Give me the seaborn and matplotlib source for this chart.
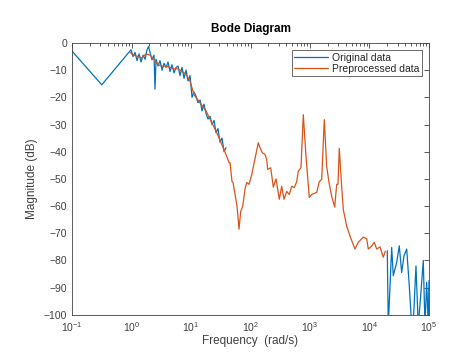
import numpy as np
import pandas as pd
import matplotlib
matplotlib.use('Agg')
import matplotlib.pyplot as plt
import seaborn as sns

# original data (rad/s, dB)
orig_freq = [0.1, 0.316, 0.98, 1.06, 1.145, 1.24, 1.34, 1.44, 1.56, 1.69, 1.82, 1.93,
             2.05, 2.21, 2.39, 2.48, 2.58, 2.79, 3.01, 3.26, 3.52, 3.80, 4.11, 4.44,
             4.79, 5.18, 5.60, 6.05, 6.53, 7.06, 7.63, 8.24, 8.91, 9.62, 10.4, 11.2,
             12.1, 13.1, 14.2, 15.3, 16.5, 17.9, 19.3, 20.9, 22.5, 24.4, 26.3, 28.4,
             30.7, 33.2, 35.9, 38.7,
             19910, 20700, 23620, 25120, 28650, 31680, 34760, 38000, 42190, 46660,
             51210, 54470, 60460, 66100, 72530, 80220, 85680, 91480, 97320, 100000]
orig_mag = [-3, -15.4, -2.5, -5, -3.5, -6.5, -4, -7, -4.5, -6, -2.5, -1.3,
            -3.5, -6.2, -4.5, -17, -6, -8.5, -6.5, -10, -7.5, -9, -7, -10.5,
            -8, -11, -9, -8.5, -12, -9, -13, -10, -14, -12, -20, -18,
            -19.5, -22, -21, -25, -22.5, -26, -28, -27, -30, -28.5, -33, -31.5,
            -36.5, -35, -40, -38.5,
            -76.4, -104, -75.2, -85.6, -80.7, -74.6, -84.4, -78.3, -75.8, -89.3,
            -104, -103, -82, -104, -93, -80, -104, -88, -104, -87.4]
# segments of the original data (gap where it is not shown)
orig_seg = [0] * 52 + [1] * 20

# preprocessed data (rad/s, dB)
prep_freq = [0.944, 1.10, 1.29, 1.50, 1.75, 2.05, 2.39, 2.79, 3.26, 3.80, 4.44, 5.18,
             6.05, 7.06, 8.24, 9.62, 11.2, 13.1, 15.3, 17.9, 20.9, 24.4, 28.4, 33.2,
             38.7, 43.5, 45.2, 48.9, 50.8, 59.3, 64.1, 68.4, 74.0, 80.8, 86.3, 94.4,
             104.8, 135.2, 144.4, 157.9, 175.3, 187.2, 194.6, 218.5, 241.7, 268.3,
             304.8, 334.5, 365.6, 405.9, 448.8, 492.5, 544.8, 597.7, 636, 706, 772,
             857, 973, 1068, 1296, 1433, 1573, 1739, 1909, 2087, 2316, 2600, 2810,
             2955, 3108, 3319, 3628, 4139, 4702, 5705, 6484, 7867, 8975, 9546, 10890,
             12040, 13210, 15020, 17060, 18430]
prep_mag = [-3.5, -4.5, -5, -5.5, -4, -4.5, -6, -8, -8.5, -8.5, -9, -9.5,
            -9.5, -10.5, -11.5, -14, -19, -21, -23, -25, -28, -31, -34, -37.5,
            -41, -44, -44, -51, -51.3, -60, -68.5, -62, -60, -53.8, -51.3, -52,
            -48.4, -36.7, -38.5, -40.4, -41, -43, -46.5, -45.9, -53, -50,
            -57.5, -52.7, -57.5, -54.6, -55.7, -52.7, -53.2, -51, -47.2, -45.8, -26.4,
            -41.8, -56.8, -55.7, -55, -51, -50.2, -28.2, -45.4, -51.3, -56.4, -60.4, -52,
            -52, -38.8, -49, -61.2, -67.4, -71, -75.8, -73.3, -71.4, -72, -75.8, -74.7,
            -73.3, -75.8, -75, -78.8, -76.6]

blue = '#0072BD'
orange = '#D95319'
axcol = '#404040'

df_orig = pd.DataFrame({'freq': orig_freq, 'mag': orig_mag, 'seg': orig_seg})
df_prep = pd.DataFrame({'freq': prep_freq, 'mag': prep_mag})

sns.set_style('white')
plt.rcParams['font.family'] = ['Liberation Sans', 'DejaVu Sans']
plt.rcParams['mathtext.fontset'] = 'custom'
plt.rcParams['mathtext.rm'] = 'Liberation Sans'
plt.rcParams['mathtext.it'] = 'Liberation Sans'

fig = plt.figure(figsize=(4.74, 3.55), dpi=100)
ax = fig.add_axes([0.152, 0.113, 0.753, 0.766])

for s, d in df_orig.groupby('seg'):
    sns.lineplot(data=d, x='freq', y='mag', ax=ax, color=blue, lw=0.9,
                 sort=False, estimator=None, label='Original data' if s == 0 else None)
sns.lineplot(data=df_prep, x='freq', y='mag', ax=ax, color=orange, lw=0.9,
             sort=False, estimator=None, label='Preprocessed data')

ax.set_xscale('log')
ax.set_xlim(0.1, 1e5)
ax.set_ylim(-100, 0)
ax.set_yticks(np.arange(-100, 1, 10))
ax.set_xticks([1e-1, 1, 1e1, 1e2, 1e3, 1e4, 1e5])

ax.tick_params(which='both', direction='in', top=True, right=True, colors=axcol,
               labelsize=7.5, width=0.6)
ax.tick_params(which='major', length=3.5)
ax.tick_params(which='minor', length=2)
for sp in ax.spines.values():
    sp.set_color(axcol)
    sp.set_linewidth(0.6)

ax.set_title('Bode Diagram', fontsize=8.5, fontweight='bold', color='black', pad=8)
ax.set_xlabel('Frequency  (rad/s)', fontsize=8.5, color=axcol, labelpad=1)
ax.set_ylabel('Magnitude (dB)', fontsize=8.5, color=axcol, labelpad=4)

leg = ax.legend(loc='upper right', fontsize=7.5, frameon=True, fancybox=False,
                edgecolor='#262626', handlelength=3.2, borderpad=0.25,
                labelspacing=0.1, handletextpad=0.4, borderaxespad=0.7)
leg.get_frame().set_linewidth(0.6)

fig.savefig('out.png', dpi=100)
